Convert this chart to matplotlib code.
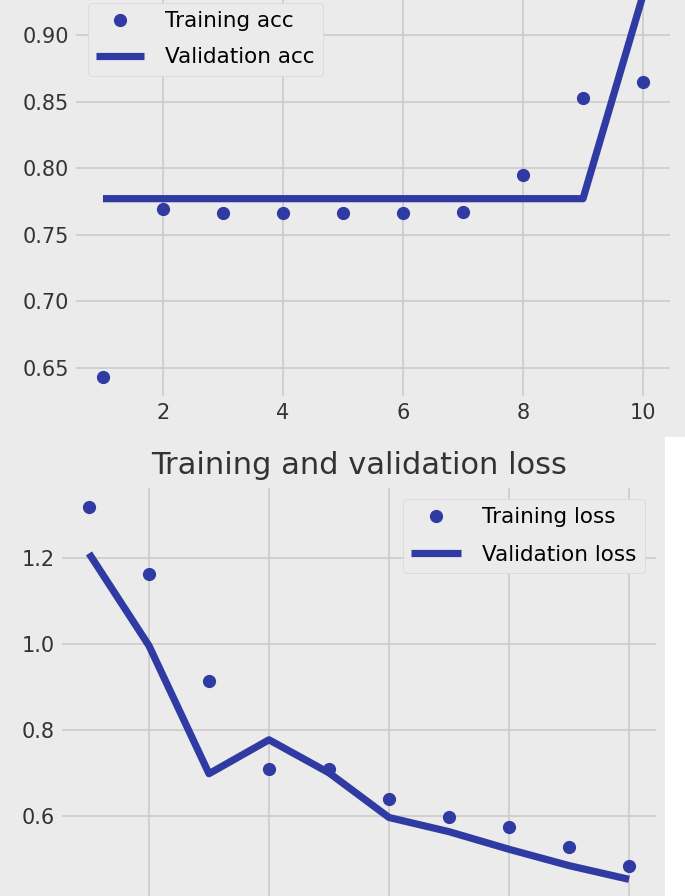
import matplotlib
matplotlib.use('Agg')
import matplotlib.pyplot as plt
from matplotlib.patches import Rectangle

plt.style.use('fivethirtyeight')

epochs = [1, 2, 3, 4, 5, 6, 7, 8, 9, 10]
acc = [0.643, 0.769, 0.766, 0.766, 0.766, 0.766, 0.767, 0.795, 0.853, 0.865]
val_acc = [0.777, 0.777, 0.777, 0.777, 0.777, 0.777, 0.777, 0.777, 0.777, 0.930]
loss = [1.320, 1.163, 0.915, 0.710, 0.710, 0.639, 0.598, 0.573, 0.528, 0.483]
val_loss = [1.211, 0.996, 0.698, 0.777, 0.700, 0.596, 0.563, 0.522, 0.484, 0.452]
xticks = [2, 4, 6, 8, 10]

bg = '#ebebeb'
blue = '#2f3ba3'
txt = '#333333'

fig = plt.figure(figsize=(6.85, 8.96), dpi=100, facecolor=bg)

# top panel (accuracy) - its title sits above the picture
ax1 = fig.add_axes([0.1109, 0.5580, 0.8672, 0.46875], facecolor=bg)
ax1.plot(epochs, acc, 'o', color=blue, ms=8.5, label='Training acc')
ax1.plot(epochs, val_acc, '-', color=blue, lw=5.2, label='Validation acc')
ax1.set_xticks(xticks)
ax1.set_yticks([0.65, 0.70, 0.75, 0.80, 0.85, 0.90])
ax1.set_yticklabels(['0.65', '0.70', '0.75', '0.80', '0.85', '0.90'])
ax1.legend(loc='lower left', bbox_to_anchor=(0.02, 0.762), borderaxespad=0,
           fontsize=15.5, labelspacing=0.75, handlelength=2.2, handletextpad=1.0,
           facecolor=bg, edgecolor='#d6d6d6', framealpha=1)

# bottom panel (loss) - x axis is below the picture
ax2 = fig.add_axes([0.0905, -0.0022, 0.8672, 0.4576], facecolor=bg)
ax2.plot(epochs, loss, 'o', color=blue, ms=8.5, label='Training loss')
ax2.plot(epochs, val_loss, '-', color=blue, lw=5.2, label='Validation loss')
ax2.set_xticks(xticks)
ax2.set_yticks([0.6, 0.8, 1.0, 1.2])
ax2.set_title('Training and validation loss', fontsize=22, pad=10, color=txt)
ax2.legend(loc='upper right', fontsize=15.5, labelspacing=0.8, handlelength=2.3,
           handletextpad=1.0, facecolor=bg, edgecolor='#d6d6d6', framealpha=1)

for ax in (ax1, ax2):
    ax.margins(x=0.05, y=0.05)
    ax.grid(True, color='#cbcbcb', lw=1.2)
    ax.tick_params(labelsize=15, labelcolor=txt, length=0, pad=5)
    for s in ax.spines.values():
        s.set_visible(False)
ax2.tick_params(labelbottom=False)

# white strip right of the lower screenshot
fig.patches.append(Rectangle((0.9708, 0), 0.0292, 0.5123, transform=fig.transFigure,
                             facecolor='white', edgecolor='none', zorder=10))

fig.savefig('out.png', dpi=100, facecolor=bg)
